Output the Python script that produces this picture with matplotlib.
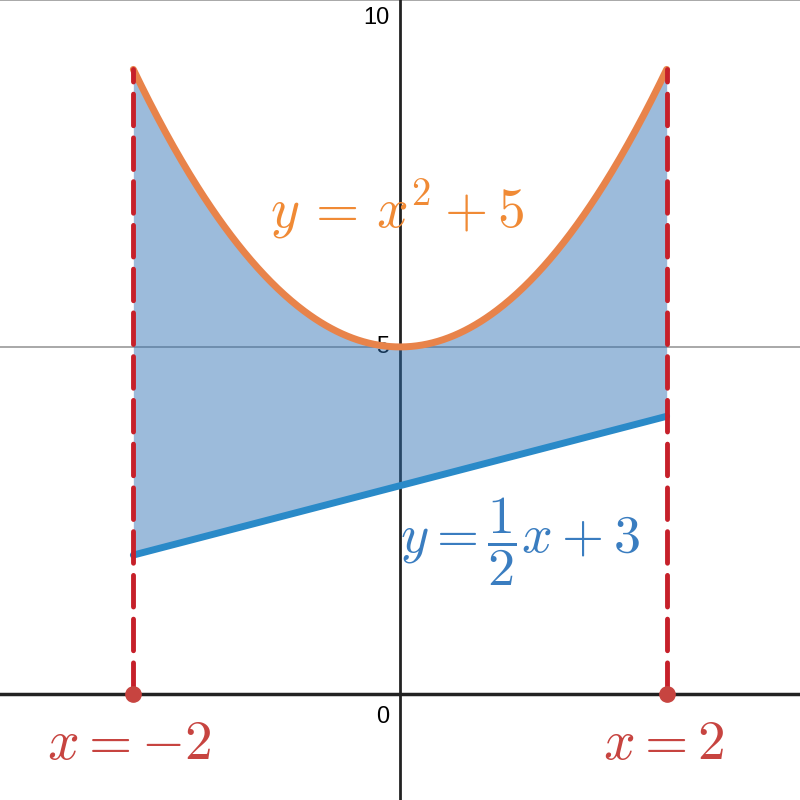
import numpy as np
import matplotlib.pyplot as plt

plt.rcParams['mathtext.fontset'] = 'cm'

# data
x_left, x_right = -2, 2
x_vals = np.linspace(x_left, x_right, 400)
upper = x_vals ** 2 + 5          # y = x^2 + 5
lower = 0.5 * x_vals + 3         # y = x/2 + 3
y_ticks = [0, 5, 10]
y_tick_labels = ["0", "5", "10"]
grid_lines = [5, 10]

fig = plt.figure(figsize=(8, 8), dpi=100)
ax = fig.add_axes([0, 0, 1, 1])
ax.set_xlim(-3, 3)
ax.set_ylim(-1.53, 10.0)
ax.axis('off')

# grid + axes
for g in grid_lines:
    ax.axhline(g, color='#9a9a9a', lw=1.2, zorder=1, clip_on=False)
ax.axhline(0, color='#222222', lw=2.5, zorder=2)
ax.axvline(0, color='#222222', lw=2, zorder=2)

tick_pos = {0: -0.33, 5: 0.0, 10: -0.26}
for t, lab in zip(y_ticks, y_tick_labels):
    ax.text(-0.08, t + tick_pos[t], lab, ha='right', va='center', fontsize=17,
            family='Liberation Sans', color='black', zorder=3)

# shaded region
ax.fill_between(x_vals, lower, upper, color='#2d70b3', alpha=0.47, lw=0, zorder=3)

# curves
ax.plot(x_vals, upper, color='#e8834a', lw=5, zorder=5, solid_capstyle='round')
ax.plot(x_vals, lower, color='#2a8ac8', lw=5, zorder=5, solid_capstyle='round')

# bounds
for xb in (x_left, x_right):
    ax.plot([xb, xb], [0, xb ** 2 + 5], color='#c6202a', lw=3.5,
            ls=(0, (6.5, 2.5)), zorder=6, dash_capstyle='round')
ax.plot([x_left, x_right], [0, 0], 'o', color='#c74440', ms=11, zorder=7, ls='none')

# labels
ax.text(-0.02, 6.97, r'$y\,=\,x^2+5$', color='#f08a35', fontsize=40,
        ha='center', va='center', zorder=8)
ax.text(0.0, 2.2, r'$y=\dfrac{1}{2}x+3$', color='#3a7dc0', fontsize=39,
        ha='left', va='center', zorder=8)
ax.text(-2.03, -0.73, r'$x=-2$', color='#c74440', fontsize=40,
        ha='center', va='center', zorder=8)
ax.text(1.98, -0.73, r'$x=2$', color='#c74440', fontsize=40,
        ha='center', va='center', zorder=8)

fig.savefig('out.png', dpi=100)
